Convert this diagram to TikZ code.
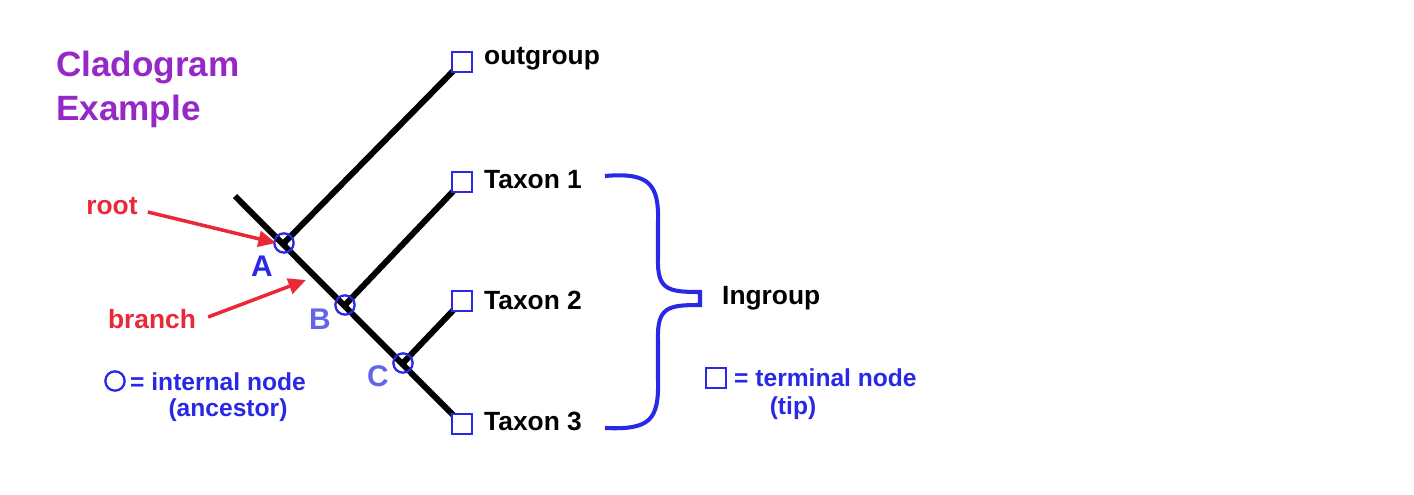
\documentclass[tikz,border=0pt]{standalone}
\usepackage{fontspec}
\setmainfont{Liberation Sans}
\usetikzlibrary{arrows.meta}
\definecolor{titlepurple}{RGB}{150,40,200}
\definecolor{rootred}{RGB}{235,40,55}
\definecolor{nodeblue}{RGB}{40,40,230}
\definecolor{letterblue}{RGB}{100,100,235}
\tikzset{
  tree/.style={line width=3.4pt},
  tipbox/.style={draw=nodeblue, line width=1.3pt, minimum size=11pt, inner sep=0pt, fill=white},
  ancnode/.style={draw=nodeblue, line width=1.3pt, circle, minimum size=11pt, inner sep=0pt},
  taxon/.style={font=\bfseries\fontsize{15}{17}\selectfont, anchor=west},
  legend/.style={font=\bfseries\fontsize{14}{16}\selectfont, text=nodeblue},
  pointer/.style={draw=rootred, line width=2pt, -{Triangle[length=10pt,width=9pt]}}
}
\begin{document}
\begin{tikzpicture}[x=0.02cm, y=-0.02cm]
        \useasboundingbox (0,0) rectangle (1414,494);

        % tree
        \coordinate (base) at (235,196);
        \coordinate (A) at (284,243);
        \coordinate (B) at (345,305);
        \coordinate (C) at (403,363);
        \node[tipbox] (out) at (462,62) {};
        \node[tipbox] (t1) at (462,182) {};
        \node[tipbox] (t2) at (462,301) {};
        \node[tipbox] (t3) at (462,424) {};
        \draw[tree] (base) -- (t3.center);
        \draw[tree] (A) -- (out.center);
        \draw[tree] (B) -- (t1.center);
        \draw[tree] (C) -- (t2.center);
        \foreach \n in {out,t1,t2,t3}
            \node[tipbox] at (\n) {};
        \foreach \n in {A,B,C} {
            \node[ancnode] (\n n) at (\n) {};
            \fill (\n) circle (2.2pt);
        }

        % labels
        \node[taxon] (outl) at (478,59) {outgroup};
        \node[taxon] (t1l) at (478,180) {Taxon 1};
        \node[taxon] (t2l) at (478,300) {Taxon 2};
        \node[taxon] (t3l) at (478,421) {Taxon 3};
        \node[font=\bfseries\fontsize{20}{25}\selectfont, text=titlepurple, align=left, anchor=north west] (title) at (50,45) {Cladogram\\Example};
        \node[font=\bfseries\fontsize{17}{19}\selectfont, text=nodeblue] (Al) at (262,266) {A};
        \node[font=\bfseries\fontsize{17}{19}\selectfont, text=letterblue] (Bl) at (320,319) {B};
        \node[font=\bfseries\fontsize{17}{19}\selectfont, text=letterblue] (Cl) at (378,376) {C};

        % root and branch
        \node[font=\bfseries\fontsize{15}{17}\selectfont, text=rootred] (root) at (112,206) {root};
        \node[font=\bfseries\fontsize{15}{17}\selectfont, text=rootred] (branch) at (152,319) {branch};
        \coordinate (rootend) at (276,243);
        \coordinate (branchend) at (306,280);
        \draw[pointer] (root.east) ++(4,6) -- (rootend);
        \draw[pointer] (branch.east) ++(6,-2) -- (branchend);

        % ingroup brace
        \draw[nodeblue, line width=2.3pt] (605,176) .. controls (650,172) and (659,185) .. (658,222) -- (658,258)
            .. controls (657,290) and (668,292) .. (700,292) -- (700,305)
            .. controls (668,305) and (657,307) .. (658,340) -- (658,380)
            .. controls (659,420) and (650,430) .. (605,428);
        \node[taxon] (ingroup) at (716,298) {Ingroup};

        % legends
        \draw[nodeblue, line width=1.3pt] (115,381) circle (5.5pt);
        \node[legend, anchor=west] (intl) at (124,382) {= internal node};
        \node[legend] (anc) at (228,410) {(ancestor)};
        \node[tipbox] (legbox) at (716,378) {};
        \node[legend, anchor=west] (terml) at (728,378) {= terminal node};
        \node[legend] (tip) at (793,408) {(tip)};
\end{tikzpicture}
\end{document}
